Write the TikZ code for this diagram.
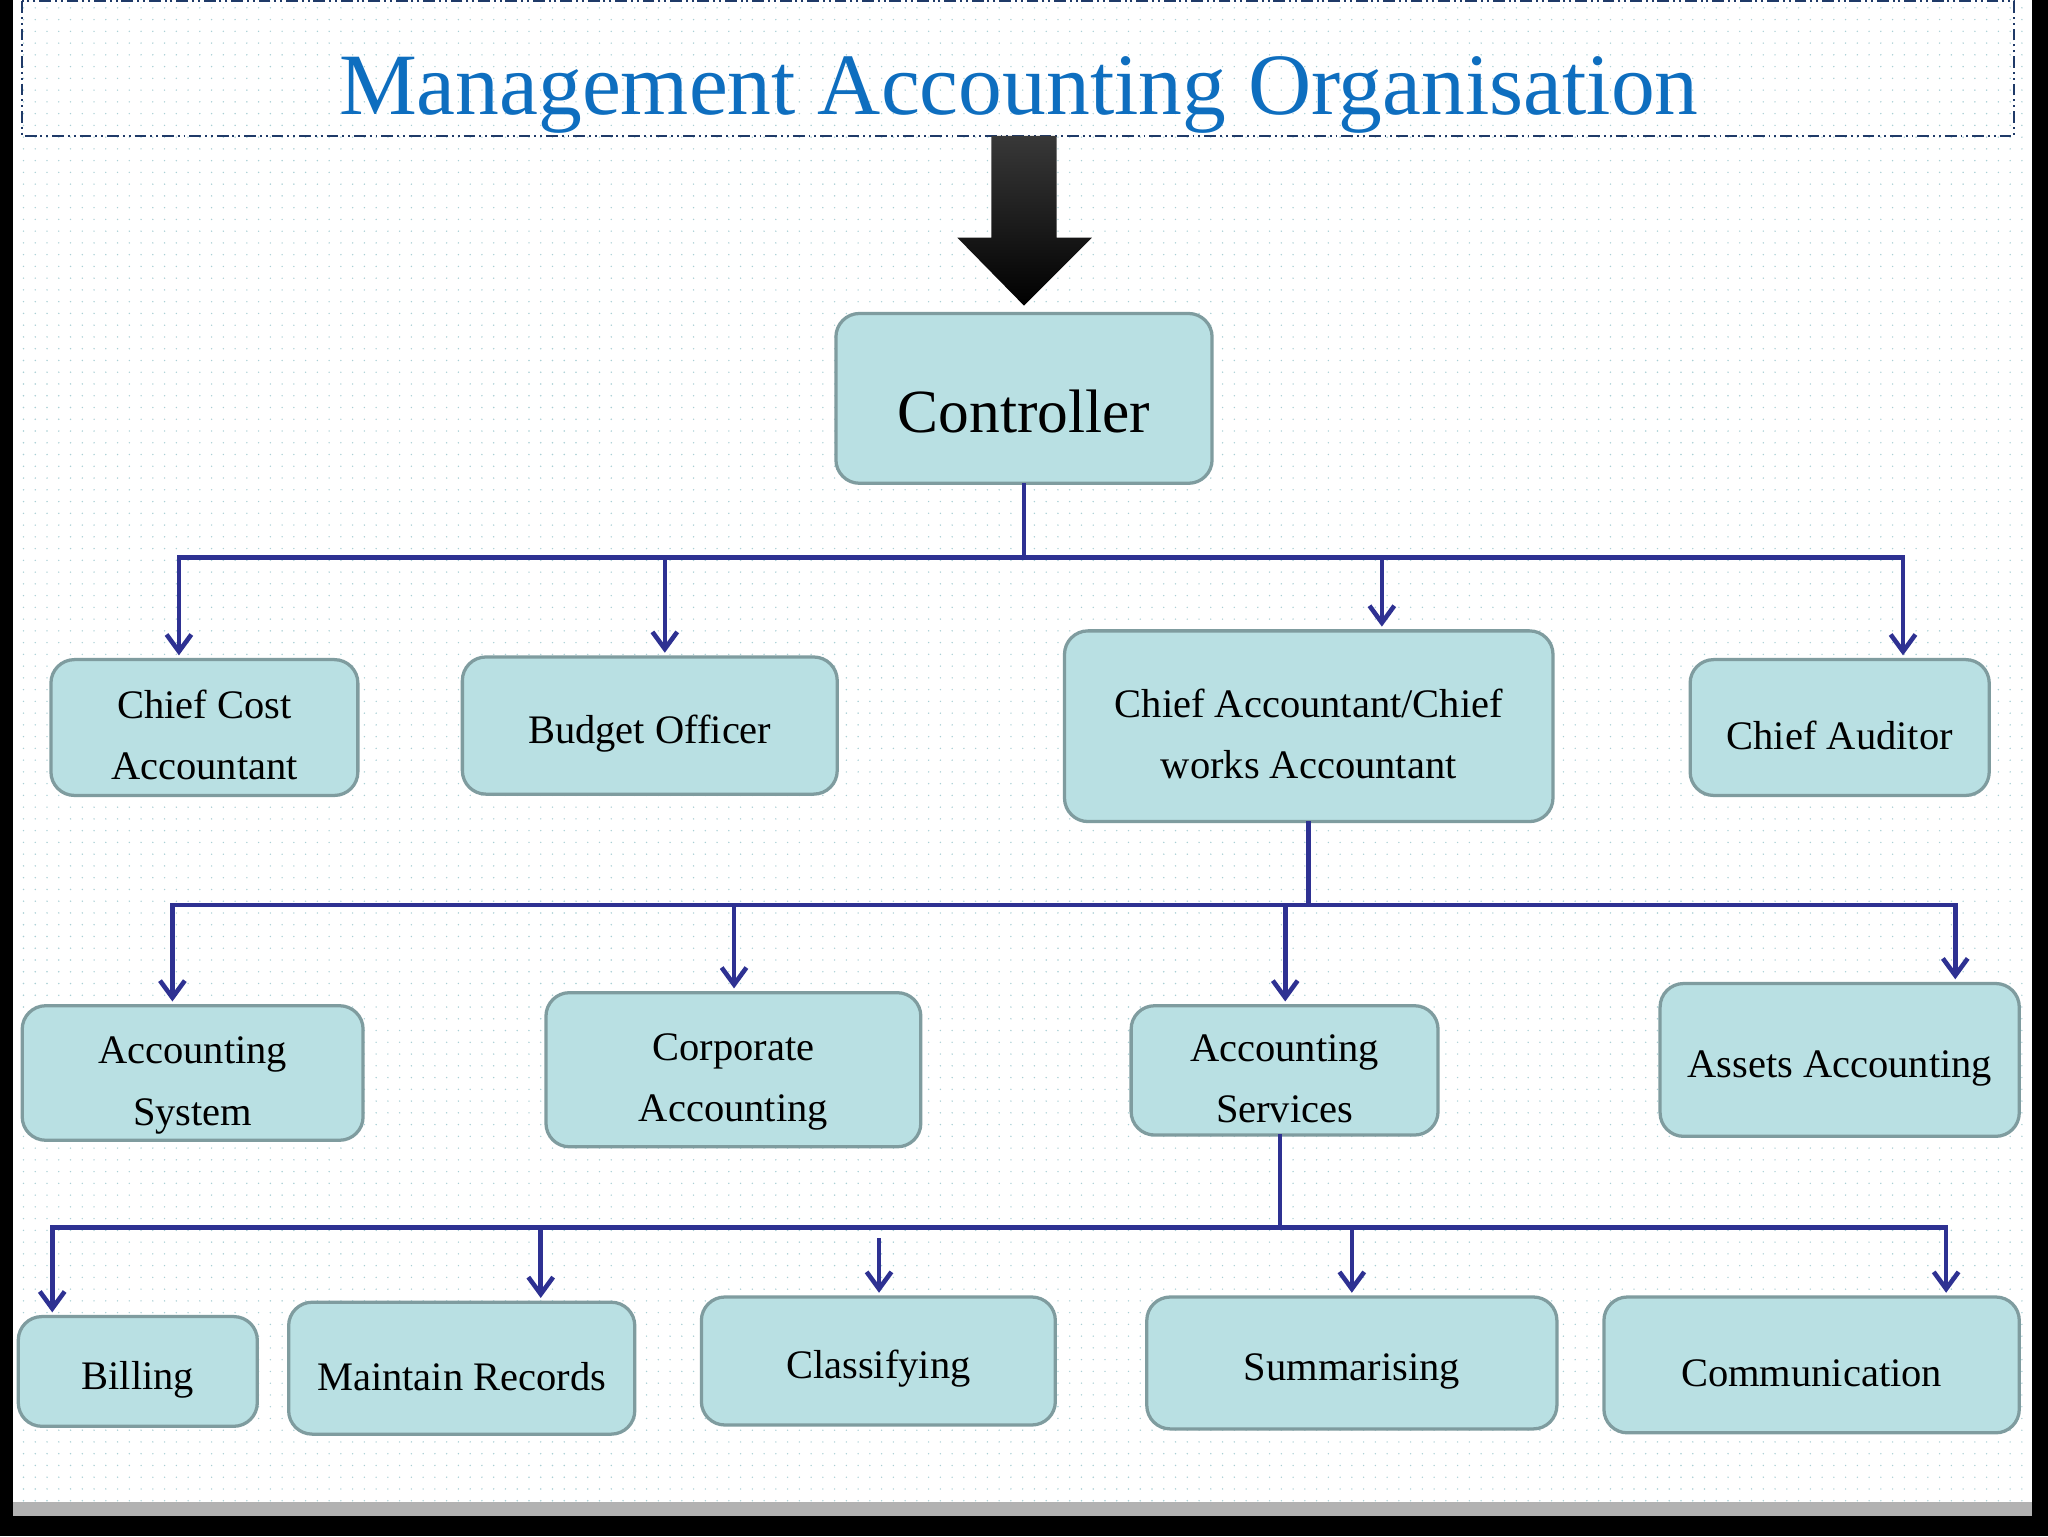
\documentclass[tikz,border=0pt]{standalone}
\usepackage{fontspec}
\setmainfont{Liberation Serif}
\usetikzlibrary{arrows.meta,patterns.meta}

\definecolor{boxfill}{HTML}{B9E0E3}
\definecolor{boxline}{HTML}{7F9C9F}
\definecolor{linkblue}{HTML}{2E3192}
\definecolor{titleblue}{HTML}{0E6EBF}
\definecolor{frameblue}{HTML}{1F3A68}
\definecolor{dotcol}{HTML}{A9CFD4}

\begin{document}
\begin{tikzpicture}[x=1pt,y=-1pt,
    box/.style={draw=boxline, fill=boxfill, line width=2.5pt, rounded corners=18pt,
                align=center, inner sep=0pt, text height=34pt, font=\fontsize{31}{47}\selectfont},
    twoline/.style={box, text height=80pt, text depth=0pt},
    link/.style={draw=linkblue, line width=3.5pt, line cap=rect},
    down/.style={draw=linkblue, line width=3.5pt, -{Straight Barb[length=13pt,width=19pt]}, shorten >=2pt}]
             \useasboundingbox (0,0) rectangle (1568,1176);

             % page
             \fill[black] (0,0) rectangle (1568,1176);
             \fill[gray!60] (10,1145) rectangle (1556,1161);
             \fill[white] (10,0) rectangle (1556,1150);
             \fill[pattern={Dots[distance=9pt,radius=0.6pt]}, pattern color=dotcol] (10,0) rectangle (1556,1150);

             % title
             \draw[frameblue, line width=1.3pt, dash pattern=on 9pt off 3pt on 1.5pt off 3pt on 1.5pt off 3pt] (17,1) rectangle (1542,104);
             \node[anchor=base, text=titleblue, font=\fontsize{67}{80}\selectfont] (title) at (780,88) {Management Accounting Organisation};
             \shade[top color=black!78, bottom color=black] (759,104) -- (809,104) -- (809,182) -- (836,182) -- (784,234) -- (733,182) -- (759,182) -- cycle;

             % boxes
             \node[box, minimum width=288pt, minimum height=130pt, text height=52pt, font=\fontsize{47}{56}\selectfont] (ctrl) at (784,305) {Controller};

             \node[twoline, minimum width=235pt, minimum height=104pt] (cca) at (156.5,557) {Chief Cost\\Accountant};
             \node[box, minimum width=287pt, minimum height=105pt] (bud) at (497.5,555.5) {Budget Officer};
             \node[twoline, minimum width=374pt, minimum height=146pt] (chief) at (1002,556) {Chief Accountant/Chief\\works Accountant};
             \node[box, minimum width=229pt, minimum height=104pt] (aud) at (1408.5,557) {Chief Auditor};

             \node[twoline, minimum width=261pt, minimum height=103pt] (asys) at (147.5,821.5) {Accounting\\System};
             \node[twoline, minimum width=287pt, minimum height=118pt] (corp) at (561.5,819) {Corporate\\Accounting};
             \node[twoline, minimum width=235pt, minimum height=99pt] (aserv) at (983.5,819.5) {Accounting\\Services};
             \node[box, minimum width=275pt, minimum height=117pt] (assets) at (1408.5,811.5) {Assets Accounting};

             \node[box, minimum width=183pt, minimum height=84pt] (bill) at (105.5,1050) {Billing};
             \node[box, minimum width=265pt, minimum height=101pt] (maint) at (353.5,1047.5) {Maintain Records};
             \node[box, minimum width=271pt, minimum height=98pt] (class) at (672.5,1042) {Classifying};
             \node[box, minimum width=314pt, minimum height=101pt] (summ) at (1035,1043.5) {Summarising};
             \node[box, minimum width=318pt, minimum height=104pt] (comm) at (1387,1045) {Communication};

             % first level
             \coordinate (bus1) at (784,427);
             \coordinate (b1a) at (137,427);
             \coordinate (b1b) at (509,427);
             \coordinate (b1c) at (1058,427);
             \coordinate (b1d) at (1457,427);
             \draw[link] (ctrl.south) -- (bus1);
             \draw[link] (b1a) -- (b1d);
             \draw[down] (b1a) -- (b1a |- cca.north);
             \draw[down] (b1b) -- (b1b |- bud.north);
             \draw[down] (b1c) -- (b1c |- chief.north);
             \draw[down] (b1d) -- (b1d |- aud.north);

             % second level
             \coordinate (bus2) at (1002,693);
             \coordinate (b2a) at (132,693);
             \coordinate (b2b) at (562,693);
             \coordinate (b2c) at (984,693);
             \coordinate (b2d) at (1497,693);
             \draw[link] (chief.south) -- (bus2);
             \draw[link] (b2a) -- (b2d);
             \draw[down] (b2a) -- (b2a |- asys.north);
             \draw[down] (b2b) -- (b2b |- corp.north);
             \draw[down] (b2c) -- (b2c |- aserv.north);
             \draw[down] (b2d) -- (b2d |- assets.north);

             % third level
             \coordinate (bus3) at (980,940);
             \coordinate (b3a) at (40,940);
             \coordinate (b3b) at (414,940);
             \coordinate (b3c) at (673,948);
             \coordinate (b3d) at (1035,940);
             \coordinate (b3e) at (1490,940);
             \draw[link] (bus3 |- aserv.south) -- (bus3);
             \draw[link] (b3a) -- (b3e);
             \draw[down] (b3a) -- (b3a |- bill.north);
             \draw[down] (b3b) -- (b3b |- maint.north);
             \draw[down] (b3c) -- (b3c |- class.north);
             \draw[down] (b3d) -- (b3d |- summ.north);
             \draw[down] (b3e) -- (b3e |- comm.north);
             \end{tikzpicture}
\end{document}
